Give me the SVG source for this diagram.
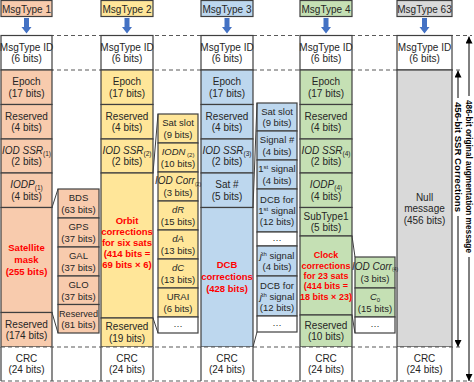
<svg xmlns="http://www.w3.org/2000/svg" width="474" height="382" viewBox="0 0 474 382">
<defs>
<style>
.c{stroke:#3f3f3f;stroke-width:1.2}
.o{fill:#F8CBAD}.y{fill:#FFE699}.bl{fill:#BDD7EE}.g{fill:#C5E0B4}.gr{fill:#D9D9D9}.w{fill:#fff}
.t{font-family:"Liberation Sans",Arial,sans-serif;font-size:10px;text-anchor:middle;fill:#262626}
.s{font-size:9.5px}
.r{fill:#FF0000;font-weight:bold;font-size:9.5px}
.r9{font-size:9px}
.i{font-style:italic}
.d{stroke:#595959;stroke-width:1.2;stroke-dasharray:4 3;fill:none}
.ln{stroke:#3f3f3f;stroke-width:1;fill:none}
.ar{stroke:#000;stroke-width:1;fill:none}
.rt{font-family:"Liberation Sans",Arial,sans-serif;font-size:9px;font-weight:bold;text-anchor:middle;fill:#000}
</style>
<polygon id="ba" points="-2.5,18 2.5,18 2.5,27 5,27 0,33.5 -5,27 -2.5,27" fill="#4472C4"/>
<marker id="up" viewBox="0 0 8 8" refX="4" refY="0" markerWidth="8" markerHeight="8" markerUnits="userSpaceOnUse" orient="auto-start-reverse"><path d="M0,0 L8,4 L0,8 Z" fill="#000" transform="rotate(0)"/></marker>
<marker id="ah" viewBox="0 0 8 8" refX="8" refY="4" markerWidth="7" markerHeight="7" markerUnits="userSpaceOnUse" orient="auto-start-reverse"><path d="M0,0 L8,4 L0,8 Z" fill="#000"/></marker>
</defs>

<g id="dashes-top">
<line class="d" x1="1" y1="35.5" x2="472" y2="35.5"/>
<line class="d" x1="1" y1="70" x2="460" y2="70"/>
</g>

<g id="labels">
<g id="lbl1"><rect class="c o" x="1" y="0.5" width="51" height="16"/><text class="t" x="26.5" y="12.8">MsgType 1</text><use href="#ba" x="26.5"/></g>
<g id="lbl2"><rect class="c y" x="101" y="0.5" width="52" height="16"/><text class="t" x="127" y="12.8">MsgType 2</text><use href="#ba" x="127"/></g>
<g id="lbl3"><rect class="c bl" x="201" y="0.5" width="52" height="16"/><text class="t" x="227" y="12.8">MsgType 3</text><use href="#ba" x="227"/></g>
<g id="lbl4"><rect class="c g" x="300" y="0.5" width="52" height="16"/><text class="t" x="326" y="12.8">MsgType 4</text><use href="#ba" x="326"/></g>
<g id="lbl63"><rect class="c gr" x="397" y="0.5" width="55" height="16"/><text class="t" x="424.5" y="12.8">MsgType 63</text><use href="#ba" x="424.5"/></g>
</g>

<g id="col1">
<rect class="c w" x="1" y="35.5" width="51" height="34.5"/>
<text class="t" x="26.5" y="50.5">MsgType ID</text><text class="t" x="26.5" y="62">(6 bits)</text>
<rect class="c o" x="1" y="70" width="51" height="34.5"/>
<text class="t" x="26.5" y="85">Epoch</text><text class="t" x="26.5" y="96.5">(17 bits)</text>
<rect class="c o" x="1" y="104.5" width="51" height="34.5"/>
<text class="t" x="26.5" y="119.5">Reserved</text><text class="t" x="26.5" y="131">(4 bits)</text>
<rect class="c o" x="1" y="139" width="51" height="34"/>
<text class="t" x="26.5" y="153.8"><tspan class="i">IOD SSR</tspan><tspan font-size="6.5" dy="2">(1)</tspan></text><text class="t" x="26.5" y="165.3">(2 bits)</text>
<rect class="c o" x="1" y="173" width="51" height="34.5"/>
<text class="t" x="26.5" y="188"><tspan class="i">IODP</tspan><tspan font-size="6.5" dy="2">(1)</tspan></text><text class="t" x="26.5" y="199.5">(4 bits)</text>
<rect class="c o" x="1" y="207.5" width="51" height="105"/>
<text class="t r" x="26.5" y="251">Satellite</text><text class="t r" x="26.5" y="263.2">mask</text><text class="t r" x="26.5" y="275.4">(255 bits)</text>
<rect class="c o" x="1" y="312.5" width="51" height="34.5"/>
<text class="t" x="26.5" y="327.5">Reserved</text><text class="t" x="26.5" y="339">(174 bits)</text>
<rect class="w" x="1" y="347" width="51" height="34"/>
<line class="c" x1="1" y1="347" x2="1" y2="381"/><line class="c" x1="52" y1="347" x2="52" y2="381"/>
<text class="t" x="26.5" y="361.8">CRC</text><text class="t" x="26.5" y="373.3">(24 bits)</text>
</g>

<g id="col2">
<rect class="c w" x="101" y="35.5" width="52" height="34.5"/>
<text class="t" x="127" y="50.5">MsgType ID</text><text class="t" x="127" y="62">(6 bits)</text>
<rect class="c y" x="101" y="70" width="52" height="34.5"/>
<text class="t" x="127" y="85">Epoch</text><text class="t" x="127" y="96.5">(17 bits)</text>
<rect class="c y" x="101" y="104.5" width="52" height="34.5"/>
<text class="t" x="127" y="119.5">Reserved</text><text class="t" x="127" y="131">(4 bits)</text>
<rect class="c y" x="101" y="139" width="52" height="34"/>
<text class="t" x="127" y="153.8"><tspan class="i">IOD SSR</tspan><tspan font-size="6.5" dy="2">(2)</tspan></text><text class="t" x="127" y="165.3">(2 bits)</text>
<rect class="c y" x="101" y="173" width="52" height="145"/>
<text class="t r" x="127" y="223.5">Orbit</text><text class="t r" x="127" y="234.7">corrections</text><text class="t r" x="127" y="245.9">for six sats</text><text class="t r" x="127" y="257.1">(414 bits =</text><text class="t r" x="127" y="268.3">69 bits × 6)</text>
<rect class="c y" x="101" y="318" width="52" height="29"/>
<text class="t" x="127" y="330.3">Reserved</text><text class="t" x="127" y="341.8">(19 bits)</text>
<rect class="w" x="101" y="347" width="52" height="34"/>
<line class="c" x1="101" y1="347" x2="101" y2="381"/><line class="c" x1="153" y1="347" x2="153" y2="381"/>
<text class="t" x="127" y="361.8">CRC</text><text class="t" x="127" y="373.3">(24 bits)</text>
</g>

<g id="col3">
<rect class="c w" x="201" y="35.5" width="52" height="34.5"/>
<text class="t" x="227" y="50.5">MsgType ID</text><text class="t" x="227" y="62">(6 bits)</text>
<rect class="c bl" x="201" y="70" width="52" height="34.5"/>
<text class="t" x="227" y="85">Epoch</text><text class="t" x="227" y="96.5">(17 bits)</text>
<rect class="c bl" x="201" y="104.5" width="52" height="34.5"/>
<text class="t" x="227" y="119.5">Reserved</text><text class="t" x="227" y="131">(4 bits)</text>
<rect class="c bl" x="201" y="139" width="52" height="34"/>
<text class="t" x="227" y="153.8"><tspan class="i">IOD SSR</tspan><tspan font-size="6.5" dy="2">(3)</tspan></text><text class="t" x="227" y="165.3">(2 bits)</text>
<rect class="c bl" x="201" y="173" width="52" height="34.5"/>
<text class="t" x="227" y="188">Sat #</text><text class="t" x="227" y="199.5">(5 bits)</text>
<rect class="c bl" x="201" y="207.5" width="52" height="139.5"/>
<text class="t r" x="227" y="268.4">DCB</text><text class="t r" x="227" y="280">corrections</text><text class="t r" x="227" y="291.5">(428 bits)</text>
<rect class="w" x="201" y="347" width="52" height="34"/>
<line class="c" x1="201" y1="347" x2="201" y2="381"/><line class="c" x1="253" y1="347" x2="253" y2="381"/>
<text class="t" x="227" y="361.8">CRC</text><text class="t" x="227" y="373.3">(24 bits)</text>
</g>

<g id="col4">
<rect class="c w" x="300" y="35.5" width="52" height="34.5"/>
<text class="t" x="326" y="50.5">MsgType ID</text><text class="t" x="326" y="62">(6 bits)</text>
<rect class="c g" x="300" y="70" width="52" height="34.5"/>
<text class="t" x="326" y="85">Epoch</text><text class="t" x="326" y="96.5">(17 bits)</text>
<rect class="c g" x="300" y="104.5" width="52" height="34.5"/>
<text class="t" x="326" y="119.5">Reserved</text><text class="t" x="326" y="131">(4 bits)</text>
<rect class="c g" x="300" y="139" width="52" height="34"/>
<text class="t" x="326" y="153.8"><tspan class="i">IOD SSR</tspan><tspan font-size="6.5" dy="2">(4)</tspan></text><text class="t" x="326" y="165.3">(2 bits)</text>
<rect class="c g" x="300" y="173" width="52" height="34.5"/>
<text class="t" x="326" y="188"><tspan class="i">IODP</tspan><tspan font-size="6.5" dy="2">(4)</tspan></text><text class="t" x="326" y="199.5">(4 bits)</text>
<rect class="c g" x="300" y="207.5" width="52" height="28.5"/>
<text class="t" x="326" y="219.5">SubType1</text><text class="t" x="326" y="231">(5 bits)</text>
<rect class="c g" x="300" y="236" width="52" height="79"/>
<text class="t r r9" x="326" y="258.1">Clock</text><text class="t r r9" x="326" y="268.5">corrections</text><text class="t r r9" x="326" y="278.9">for 23 sats</text><text class="t r r9" x="326" y="289.3">(414 bits =</text><text class="t r r9" x="326" y="299.7">18 bits × 23)</text>
<rect class="c g" x="300" y="315" width="52" height="32"/>
<text class="t" x="326" y="328.8">Reserved</text><text class="t" x="326" y="340.3">(10 bits)</text>
<rect class="w" x="300" y="347" width="52" height="34"/>
<line class="c" x1="300" y1="347" x2="300" y2="381"/><line class="c" x1="352" y1="347" x2="352" y2="381"/>
<text class="t" x="326" y="361.8">CRC</text><text class="t" x="326" y="373.3">(24 bits)</text>
</g>

<g id="col63">
<rect class="c w" x="397" y="35.5" width="55" height="34.5"/>
<text class="t" x="424.5" y="50.5">MsgType ID</text><text class="t" x="424.5" y="62">(6 bits)</text>
<rect class="c gr" x="397" y="70" width="55" height="277"/>
<text class="t" x="424.5" y="200.5">Null</text><text class="t" x="424.5" y="212.3">message</text><text class="t" x="424.5" y="224">(456 bits)</text>
<rect class="w" x="397" y="347" width="55" height="34"/>
<line class="c" x1="397" y1="347" x2="397" y2="381"/><line class="c" x1="452" y1="347" x2="452" y2="381"/>
<text class="t" x="424.5" y="361.8">CRC</text><text class="t" x="424.5" y="373.3">(24 bits)</text>
</g>

<g id="mask-detail">
<rect class="c o" x="58" y="189" width="41" height="29"/>
<text class="t s" x="78.5" y="201.3">BDS</text><text class="t s" x="78.5" y="212.8">(63 bits)</text>
<rect class="c o" x="58" y="218" width="41" height="29"/>
<text class="t s" x="78.5" y="230.3">GPS</text><text class="t s" x="78.5" y="241.8">(37 bits)</text>
<rect class="c o" x="58" y="247" width="41" height="29"/>
<text class="t s" x="78.5" y="259.3">GAL</text><text class="t s" x="78.5" y="270.8">(37 bits)</text>
<rect class="c o" x="58" y="276" width="41" height="28.5"/>
<text class="t s" x="78.5" y="288">GLO</text><text class="t s" x="78.5" y="299.5">(37 bits)</text>
<rect class="c o" x="58" y="304.5" width="41" height="28.5"/>
<text class="t s" x="78.5" y="316.5" textLength="39" lengthAdjust="spacingAndGlyphs">Reserved</text><text class="t s" x="78.5" y="328">(81 bits)</text>
</g>

<g id="orbit-detail">
<rect class="c y" x="158" y="114" width="40" height="29"/>
<text class="t s" x="178" y="126.3">Sat slot</text><text class="t s" x="178" y="137.8">(9 bits)</text>
<rect class="c y" x="158" y="143" width="40" height="29"/>
<text class="t s" x="178" y="155.3"><tspan class="i">IODN</tspan><tspan font-size="6" dy="2"> (2)</tspan></text><text class="t s" x="178" y="166.8">(10 bits)</text>
<rect class="c y" x="158" y="172" width="40" height="29"/>
<text class="t" x="178" y="184" font-size="7"><tspan class="i">IOD Corr</tspan><tspan font-size="5" dy="1.5">(2)</tspan></text><text class="t s" x="178" y="195.8">(3 bits)</text>
<rect class="c y" x="158" y="201" width="40" height="29"/>
<text class="t s i" x="178" y="213.3">dR</text><text class="t s" x="178" y="224.8">(15 bits)</text>
<rect class="c y" x="158" y="230" width="40" height="29"/>
<text class="t s i" x="178" y="242.3">dA</text><text class="t s" x="178" y="253.8">(13 bits)</text>
<rect class="c y" x="158" y="259" width="40" height="29"/>
<text class="t s i" x="178" y="271.3">dC</text><text class="t s" x="178" y="282.8">(13 bits)</text>
<rect class="c y" x="158" y="288" width="40" height="29"/>
<text class="t s" x="178" y="300.3">URAI</text><text class="t s" x="178" y="311.8">(6 bits)</text>
<rect class="c w" x="158" y="317" width="40" height="16"/>
<text class="t s" x="178" y="327">…</text>
</g>

<g id="dcb-detail">
<rect class="c bl" x="257" y="103" width="40" height="28"/>
<text class="t s" x="277" y="114.8">Sat slot</text><text class="t s" x="277" y="126.3">(9 bits)</text>
<rect class="c bl" x="257" y="131" width="40" height="29"/>
<text class="t s" x="277" y="143.3">Signal #</text><text class="t s" x="277" y="154.8">(4 bits)</text>
<rect class="c bl" x="257" y="160" width="40" height="29"/>
<text class="t s" x="277" y="172.3">1<tspan font-size="6" dy="-3">st</tspan><tspan dy="3"> signal</tspan></text><text class="t s" x="277" y="183.8">(4 bits)</text>
<rect class="c bl" x="257" y="189" width="40" height="43"/>
<text class="t s" x="277" y="203">DCB for</text><text class="t s" x="277" y="214">1<tspan font-size="6" dy="-3">st</tspan><tspan dy="3"> signal</tspan></text><text class="t s" x="277" y="225">(12 bits)</text>
<rect class="c w" x="257" y="232" width="40" height="14"/>
<text class="t s" x="277" y="241">…</text>
<rect class="c bl" x="257" y="246" width="40" height="30"/>
<text class="t s" x="277" y="258.8"><tspan class="i">j</tspan><tspan font-size="6" dy="-3">th</tspan><tspan dy="3"> signal</tspan></text><text class="t s" x="277" y="270.3">(4 bits)</text>
<rect class="c bl" x="257" y="276" width="40" height="40"/>
<text class="t s" x="277" y="288.5">DCB for</text><text class="t s" x="277" y="299.5"><tspan class="i">j</tspan><tspan font-size="6" dy="-3">th</tspan><tspan dy="3"> signal</tspan></text><text class="t s" x="277" y="310.5">(12 bits)</text>
<rect class="c w" x="257" y="316" width="40" height="16"/>
<text class="t s" x="277" y="326">…</text>
</g>

<g id="clock-detail">
<rect class="c g" x="355" y="257" width="40" height="31"/>
<text class="t" x="375" y="269.5" font-size="7"><tspan class="i">IOD Corr</tspan><tspan font-size="5" dy="1.5">(4)</tspan></text><text class="t s" x="375" y="281.8">(3 bits)</text>
<rect class="c g" x="355" y="288" width="40" height="29"/>
<text class="t s" x="375" y="300.3"><tspan class="i">C</tspan><tspan font-size="6" dy="2">0</tspan></text><text class="t s" x="375" y="311.8">(15 bits)</text>
<rect class="c w" x="355" y="317" width="40" height="16"/>
<text class="t s" x="375" y="327">…</text>
</g>

<g id="connectors">
<line class="ln" x1="52" y1="207.5" x2="58" y2="189"/>
<line class="ln" x1="52" y1="312.5" x2="58" y2="333"/>
<line class="ln" x1="153" y1="173" x2="158" y2="114"/>
<line class="ln" x1="153" y1="318" x2="158" y2="333"/>
<line class="ln" x1="253" y1="207.5" x2="257" y2="103"/>
<line class="ln" x1="253" y1="347" x2="257" y2="332"/>
<line class="ln" x1="352" y1="236" x2="355" y2="257"/>
<line class="ln" x1="352" y1="315" x2="355" y2="333"/>
<line class="ar" x1="469" y1="96" x2="469" y2="36.5" marker-end="url(#ah)"/>
<line class="ar" x1="469" y1="257" x2="469" y2="381" marker-end="url(#ah)"/>
<line class="ar" x1="458" y1="98" x2="458" y2="70.5" marker-end="url(#ah)"/>
<line class="ar" x1="458" y1="216" x2="458" y2="347" marker-end="url(#ah)"/>
</g>

<g id="dashes-bottom">
<line class="d" x1="1" y1="347" x2="460" y2="347"/>
<line class="d" x1="1" y1="381" x2="472" y2="381"/>
</g>

<g id="span-labels">
<text class="rt" transform="translate(465.8,176.5) rotate(90)" textLength="153" lengthAdjust="spacingAndGlyphs">486-bit original augmentation message</text>
<text class="rt" transform="translate(455,157) rotate(90)" textLength="110" lengthAdjust="spacingAndGlyphs">456-bit SSR Corrections</text>
</g>
</svg>
